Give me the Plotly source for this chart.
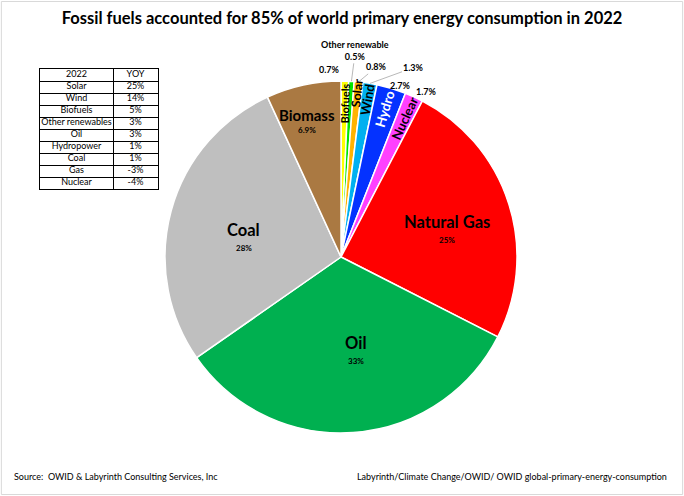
import math
import plotly.graph_objects as go

# ---------------- data ----------------
categories = ["Biofuels", "Other renewable", "Solar", "Wind", "Hydro",
              "Nuclear", "Natural Gas", "Oil", "Coal", "Biomass"]
shares = [0.7, 0.5, 0.8, 1.3, 2.7, 1.7, 25, 33, 28, 6.9]
share_labels = ["0.7%", "0.5%", "0.8%", "1.3%", "2.7%", "1.7%", "25%", "33%", "28%", "6.9%"]

table_header = ["2022", "YOY"]
table_sources = ["Solar", "Wind", "Biofuels", "Other renewables", "Oil",
                 "Hydropower", "Coal", "Gas", "Nuclear"]
table_yoy = ["25%", "14%", "5%", "3%", "3%", "1%", "1%", "-3%", "-4%"]

title_text = "Fossil fuels accounted for 85% of world primary energy consumption in 2022"
source_left = "Source:  OWID & Labyrinth Consulting Services, Inc"
source_right = "Labyrinth/Climate Change/OWID/ OWID global-primary-energy-consumption"

# ---------------- styles ----------------
W, H = 684, 496
FONT = "Lato"
colors = ["#FFFF00", "#00E600", "#FFB300", "#00B0F0", "#0432FF",
          "#FF40FF", "#FF0000", "#00B050", "#BFBFBF", "#AA7942"]
CX, CY, R = 341, 257, 176  # pie centre / radius in pixels

big_style = {
    "Natural Gas": dict(r=112, dth=-0.6, size=16.5, pshift=-18),
    "Oil": dict(r=87, dth=-6.0, size=16.5, pshift=-18),
    "Coal": dict(r=101, dth=0.4, size=16.5, pshift=-18),
    "Biomass": dict(r=146, dth=-1.2, size=15, pshift=-15),
}
radial_style = {
    "Biofuels": dict(r=154, size=11, color="black"),
    "Solar": dict(r=165, size=12.5, color="black"),
    "Wind": dict(r=160, size=13, color="black"),
    "Hydro": dict(r=155, size=13.5, color="white"),
    "Nuclear": dict(r=152, size=13, color="black"),
}
outside_style = {
    "Biofuels": dict(ax=-15, ay=-12, line=False, name=False),
    "Other renewable": dict(ax=4, ay=-31, line=True, name=True),
    "Solar": dict(ax=18, ay=-15, line=True, name=False),
    "Wind": dict(ax=44, ay=-16, line=True, name=False),
    "Hydro": dict(ax=9, ay=-3, line=False, name=False),
    "Nuclear": dict(ax=12, ay=-5, line=False, name=False),
}
# table box (pixels) and column widths
TX0, TX1, TY0, TY1 = 40, 158, 69, 189
COLW = [73, 45]

total = sum(shares)
mids = []
acc = 0.0
for v in shares:
    mids.append((acc + v / 2) / total)
    acc += v


def polar(frac, r, dth=0.0):
    th = 2 * math.pi * frac + math.radians(dth)
    px = CX + r * math.sin(th)
    py = CY - r * math.cos(th)
    return px / W, 1 - py / H


fig = go.Figure()

fig.add_trace(go.Pie(
    labels=categories, values=shares, sort=False, direction="clockwise",
    rotation=0, textinfo="none", showlegend=False,
    marker=dict(colors=colors, line=dict(color="white", width=1.5)),
    domain=dict(x=[(CX - R) / W, (CX + R) / W],
                y=[1 - (CY + R) / H, 1 - (CY - R) / H]),
    hovertemplate="%{label}: %{value}%<extra></extra>",
))

# table drawn on its own small axes: rows = y, columns = x
col1 = [table_header[0]] + table_sources
col2 = [table_header[1]] + table_yoy
nrows = len(col1)
fig.add_trace(go.Scatter(
    x=[COLW[0] / 2] * nrows + [COLW[0] + COLW[1] / 2] * nrows,
    y=[i + 0.5 for i in range(nrows)] * 2,
    text=col1 + col2, mode="text", showlegend=False, hoverinfo="skip",
    textfont=dict(family=FONT, size=9, color="black"), cliponaxis=False,
))

ann = []
for i, cat in enumerate(categories):
    if cat in big_style:
        s = big_style[cat]
        x, y = polar(mids[i], s["r"], s["dth"])
        ann.append(dict(x=x, y=y, xref="paper", yref="paper", text=cat,
                        xanchor="center", yanchor="middle",
                        showarrow=False, font=dict(family=FONT, size=s["size"],
                                                   color="black", weight="bold")))
        ann.append(dict(x=x, y=y, xref="paper", yref="paper", text=share_labels[i],
                        xanchor="center", yanchor="middle",
                        showarrow=False, yshift=s["pshift"],
                        font=dict(family=FONT, size=8, color="black", weight="bold")))
    if cat in radial_style:
        s = radial_style[cat]
        x, y = polar(mids[i], s["r"])
        ann.append(dict(x=x, y=y, xref="paper", yref="paper", text=cat,
                        xanchor="center", yanchor="middle",
                        showarrow=False, textangle=mids[i] * 360 - 90,
                        font=dict(family=FONT, size=s["size"], color=s["color"],
                                  weight="bold")))
    if cat in outside_style:
        s = outside_style[cat]
        x, y = polar(mids[i], R)
        txt = share_labels[i]
        if s["name"]:
            txt = cat + "<br>" + txt
        ann.append(dict(x=x, y=y, xref="paper", yref="paper", text=txt,
                        showarrow=True, ax=s["ax"], ay=s["ay"], arrowhead=0,
                        arrowwidth=0.8, standoff=0, startstandoff=0,
                        arrowcolor="#A6A6A6" if s["line"] else "rgba(0,0,0,0)",
                        font=dict(family=FONT, size=9, color="black", weight="bold")))

ann.append(dict(x=12 / W, y=1 - 476 / H, xref="paper", yref="paper", text=source_left,
                showarrow=False, xanchor="left", yanchor="middle",
                font=dict(family=FONT, size=9, color="black")))
ann.append(dict(x=669 / W, y=1 - 476 / H, xref="paper", yref="paper", text=source_right,
                showarrow=False, xanchor="right", yanchor="middle",
                font=dict(family=FONT, size=9, color="black")))

axis_common = dict(showticklabels=False, ticks="", zeroline=False, showline=True,
                   mirror=True, linecolor="black", linewidth=1.3, showgrid=True,
                   gridcolor="black", gridwidth=1, fixedrange=True)

fig.update_layout(
    width=W, height=H, margin=dict(l=0, r=0, t=0, b=0),
    paper_bgcolor="white", plot_bgcolor="white",
    title=dict(text=title_text, x=0.5, xanchor="center", y=1 - 18 / H, yanchor="middle",
               yref="container",
               font=dict(family=FONT, size=16.5, color="black", weight="bold")),
    xaxis=dict(domain=[TX0 / W, TX1 / W], range=[0, sum(COLW)],
               tickmode="array", tickvals=[COLW[0]], **axis_common),
    yaxis=dict(domain=[1 - TY1 / H, 1 - TY0 / H], range=[nrows, 0],
               tickmode="linear", tick0=0, dtick=1, **axis_common),
    annotations=ann,
    shapes=[dict(type="rect", xref="paper", yref="paper", x0=0.002, x1=0.998,
                 y0=0.003, y1=0.997, line=dict(color="#D9D9D9", width=1))],
)

fig.write_html("out.html", config={"displayModeBar": False},
               post_script="document.body.style.margin='0px';")
